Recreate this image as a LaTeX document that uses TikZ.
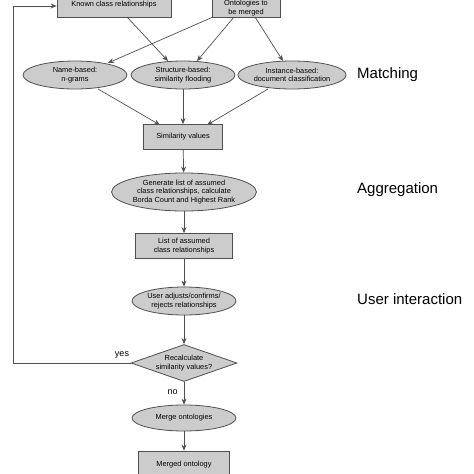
\documentclass[tikz,border=0pt]{standalone}
\usepackage{fontspec}
\setmainfont{Liberation Sans}
\usetikzlibrary{shapes.geometric,arrows.meta}
\definecolor{boxfill}{HTML}{CCCCCC}
\definecolor{edge}{HTML}{505050}
\begin{document}
\begin{tikzpicture}[x=1pt,y=-1pt,
  every node/.style={font=\fontsize{7.4}{8.4}\selectfont, align=center, inner sep=0pt},
  rbox/.style={draw=edge, fill=boxfill, line width=0.8pt, rectangle},
  ebox/.style={draw=edge, fill=boxfill, line width=0.8pt, ellipse},
  dbox/.style={draw=edge, fill=boxfill, line width=0.8pt, diamond, aspect=2.86},
  conn/.style={draw=edge, line width=0.7pt, -{Stealth[length=6pt,width=5pt]}},
  phase/.style={font=\fontsize{15}{18}\selectfont, anchor=west},
  lbl/.style={font=\fontsize{9}{10}\selectfont}]
\useasboundingbox (0,0) rectangle (474,474);
\node[rbox, minimum width=114pt, minimum height=24pt] (known) at (114,5) {Known class relationships};
\node[rbox, minimum width=68pt, minimum height=19pt] (onto) at (246,7.5) {};
\node (ontotext) at (246,8) {Ontologies to\\be merged};
\node[ebox, minimum width=104pt, minimum height=28pt] (name) at (75,75) {Name-based:\\n-grams};
\node[ebox, minimum width=104pt, minimum height=28pt] (struct) at (183,75) {Structure-based:\\similarity flooding};
\node[ebox, minimum width=104pt, minimum height=28pt] (inst) at (292,75) {Instance-based:\\document classification};
\node[phase] (matching) at (357,75) {Matching};
\node[rbox, minimum width=79pt, minimum height=25pt] (sim) at (183,137) {Similarity values};
\node[ebox, minimum width=130pt, minimum height=38pt] (gen) at (184,192) {Generate list of assumed\\class relationships, calculate\\Borda Count and Highest Rank};
\node[phase] (aggr) at (357,190) {Aggregation};
\node[rbox, minimum width=97pt, minimum height=25pt] (list) at (184,246) {List of assumed\\class relationships};
\node[ebox, minimum width=104pt, minimum height=28pt] (user) at (184,301) {User adjusts/confirms/\\rejects relationships};
\node[phase] (uint) at (357,299) {User interaction};
\node[dbox, minimum width=106pt, minimum height=37pt] (recalc) at (184,363) {Recalculate\\similarity values?};
\node[ebox, minimum width=104pt, minimum height=26pt] (merge) at (184,418) {Merge ontologies};
\node[rbox, minimum width=91pt, minimum height=28pt] (merged) at (184,465) {Merged ontology};
\coordinate (lc) at (13,363);
\coordinate (tc) at (13,6);
\draw[conn] (127,17) -- (168,61);
\draw[conn] (213,17) -- (108,63);
\draw[conn] (234,17) -- (197,61);
\draw[conn] (255,17) -- (283,61);
\draw[conn] (98,89) -- (160,125);
\draw[conn] (struct) -- (sim);
\draw[conn] (268,89) -- (207,125);
\draw[conn] (sim) -- (gen);
\draw[conn] (gen) -- (list);
\draw[conn] (list) -- (user);
\draw[conn] (user) -- (recalc);
\draw[conn] (recalc) -- node[lbl, left=6pt, pos=0.45] {no} (merge);
\draw[conn] (merge) -- (merged);
\draw[conn] (recalc.west) -- (lc) -- (tc) -- (known.west |- tc);
\node[lbl] (yes) at (122,355) {yes};
\end{tikzpicture}
\end{document}
